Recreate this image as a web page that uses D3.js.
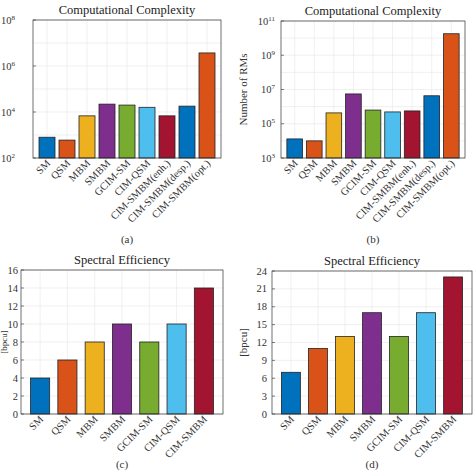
<!DOCTYPE html>
<html><head><meta charset="utf-8">
<script src="https://cdn.jsdelivr.net/npm/d3@7"></script>
<style>body{margin:0;background:#fff}svg{font-family:"Liberation Serif","DejaVu Serif",serif}</style>
</head><body><svg id="c" width="474" height="474"></svg>
<script>
const cats9 = ["SM","QSM","MBM","SMBM","GCIM-SM","CIM-QSM","CIM-SMBM(enh.)","CIM-SMBM(desp.)","CIM-SMBM(opt.)"];
const valsA = [800,600,6800,22000,20000,16000,6800,18000,3.7e6];
const valsB = [13000,10000,4.3e5,5.5e6,6.3e5,4.9e5,5.6e5,4.3e6,1.8e10];
const cats7 = ["SM","QSM","MBM","SMBM","GCIM-SM","CIM-QSM","CIM-SMBM"];
const valsC = [4,6,8,10,8,10,14];
const valsD = [7,11,13,17,13,17,23];
const ticksA = [2,4,6,8], ticksB = [3,5,7,9,11];
const ticksC = [0,2,4,6,8,10,12,14,16], ticksD = [0,3,6,9,12,15,18,21,24];
const colors9 = ["#0072BD","#D95319","#EDB120","#7E2F8E","#77AC30","#4DBEEE","#A2142F","#0072BD","#D95319"];

const svg = d3.select("#c");
function panel(o){
  const g = svg.append("g");
  const x = d3.scaleBand().domain(o.cats).range([o.x0,o.x1]).paddingInner(o.pad).paddingOuter(o.pad/2+0.2);
  const y = o.log ? d3.scaleLog().domain(o.dom).range([o.y1,o.y0]) : d3.scaleLinear().domain(o.dom).range([o.y1,o.y0]);
  o.cats.forEach(c=>g.append("line").attr("x1",x(c)+x.bandwidth()/2).attr("x2",x(c)+x.bandwidth()/2).attr("y1",o.y0).attr("y2",o.y1).attr("stroke","#e6e6e6").attr("stroke-width",0.6));
  const gt = o.log ? (()=>{const a=[];for(let e=Math.log10(o.dom[0]);e<=Math.log10(o.dom[1]);e++)a.push(Math.pow(10,e));return a;})() : o.ticks;
  gt.forEach(t=>g.append("line").attr("x1",o.x0).attr("x2",o.x1).attr("y1",y(t)).attr("y2",y(t)).attr("stroke","#e6e6e6").attr("stroke-width",0.6));
  g.selectAll("rect.b").data(o.vals).join("rect").attr("x",(d,i)=>x(o.cats[i])).attr("width",x.bandwidth())
    .attr("y",d=>y(d)).attr("height",d=>o.y1-y(d)).attr("fill",(d,i)=>colors9[i]).attr("stroke","#222").attr("stroke-width",0.8);
  g.append("rect").attr("x",o.x0).attr("y",o.y0).attr("width",o.x1-o.x0).attr("height",o.y1-o.y0).attr("fill","none").attr("stroke","#333").attr("stroke-width",0.7);
  const tv = o.log ? o.ticks.map(e=>Math.pow(10,e)) : o.ticks;
  tv.forEach((t,i)=>{
    g.append("line").attr("x1",o.x0).attr("x2",o.x0+3).attr("y1",y(t)).attr("y2",y(t)).attr("stroke","#333").attr("stroke-width",0.6);
    const tx = g.append("text").attr("x",o.lx).attr("y",y(t)+3.5).attr("text-anchor","end").attr("font-size",10.5).attr("fill","#333");
    if(o.log){tx.text("10");tx.append("tspan").attr("dy",-4).attr("font-size",7).text(o.ticks[i]);}
    else tx.text(t);
  });
  o.cats.forEach(c=>{
    const cx = x(c)+x.bandwidth()/2+4;
    g.append("text").attr("transform",`translate(${cx},${o.y1+6}) rotate(-45)`).attr("text-anchor","end")
      .attr("font-size",10.5).attr("fill","#333").text(c);
  });
  g.append("text").attr("x",(o.x0+o.x1)/2).attr("y",o.y0-6).attr("text-anchor","middle").attr("font-size",12.5).attr("fill","#222").text(o.title);
  g.append("text").attr("x",(o.x0+o.x1)/2).attr("y",o.cap).attr("text-anchor","middle").attr("font-size",11).attr("fill","#333").text(o.capt);
  if(o.ylab) g.append("text").attr("transform",`translate(${o.ylx},${(o.y0+o.y1)/2}) rotate(-90)`).attr("text-anchor","middle").attr("font-size",o.ylfs||11).attr("fill","#333").text(o.ylab);
}
panel({cats:cats9,vals:valsA,log:true,dom:[1e2,1e8],ticks:ticksA,x0:33,x1:221,y0:20,y1:158,pad:0.2,lx:15,title:"Computational Complexity",cap:243,capt:"(a)"});
panel({cats:cats9,vals:valsB,log:true,dom:[1e3,1e11],ticks:ticksB,x0:281,x1:465,y0:21,y1:158,pad:0.2,lx:275,title:"Computational Complexity",cap:243,capt:"(b)",ylab:"Number of RMs",ylx:247});
panel({cats:cats7,vals:valsC,log:false,dom:[0,16],ticks:ticksC,x0:21,x1:223,y0:270,y1:414,pad:0.3,lx:18,title:"Spectral Efficiency",cap:468,capt:"(c)",ylab:"[bpcu]",ylx:7,ylfs:9});
panel({cats:cats7,vals:valsD,log:false,dom:[0,24],ticks:ticksD,x0:272,x1:472,y0:271,y1:414,pad:0.3,lx:267,title:"Spectral Efficiency",cap:468,capt:"(d)",ylab:"[bpcu]",ylx:247});
</script></body></html>
